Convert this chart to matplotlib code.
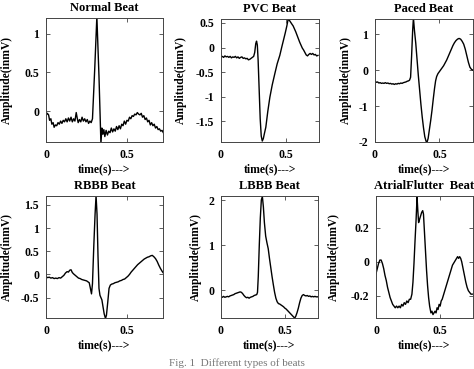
import matplotlib
matplotlib.use("Agg")
import matplotlib.pyplot as plt

plt.rcParams['font.family'] = ['Liberation Serif', 'DejaVu Serif']
plt.rcParams['font.weight'] = 'bold'

# ---- data (time in s, amplitude in mV) ----
normal_t = [0.000, 0.008, 0.016, 0.022, 0.030, 0.036, 0.044, 0.050, 0.058, 0.066,
            0.074, 0.082, 0.090, 0.098, 0.106, 0.114, 0.122, 0.130, 0.138, 0.146,
            0.154, 0.162, 0.170, 0.178, 0.186, 0.192, 0.198, 0.206, 0.214, 0.222,
            0.230, 0.238, 0.246, 0.254, 0.262, 0.270, 0.278, 0.286, 0.300, 0.313,
            0.326, 0.338, 0.344, 0.350, 0.356, 0.362, 0.370, 0.378, 0.386, 0.394,
            0.402, 0.410, 0.418, 0.426, 0.434, 0.442, 0.450, 0.458, 0.466, 0.474,
            0.482, 0.490, 0.498, 0.506, 0.514, 0.522, 0.530, 0.538, 0.546, 0.554,
            0.562, 0.570, 0.578, 0.586, 0.594, 0.602, 0.610, 0.618, 0.626, 0.634,
            0.642, 0.650, 0.658, 0.666, 0.674, 0.682, 0.690, 0.698, 0.706, 0.714,
            0.722]
normal_mv = [-0.06, -0.03, -0.05, -0.12, -0.10, -0.17, -0.15, -0.21, -0.18, -0.19,
             -0.15, -0.17, -0.13, -0.16, -0.12, -0.14, -0.10, -0.14, -0.09, -0.13,
             -0.08, -0.14, -0.10, -0.13, -0.02, -0.09, -0.15, -0.11, -0.14, -0.08,
             -0.13, -0.10, -0.14, -0.11, -0.16, -0.13, -0.15, -0.10, 0.55, 1.22,
             0.45, -0.42, -0.22, -0.30, -0.24, -0.33, -0.25, -0.31, -0.26, -0.28,
             -0.22, -0.27, -0.23, -0.26, -0.20, -0.24, -0.19, -0.23, -0.17, -0.19,
             -0.13, -0.17, -0.12, -0.13, -0.08, -0.10, -0.06, -0.07, -0.04, -0.05,
             -0.02, -0.04, -0.05, -0.03, -0.08, -0.06, -0.11, -0.09, -0.14, -0.12,
             -0.18, -0.15, -0.19, -0.17, -0.22, -0.20, -0.24, -0.23, -0.26, -0.25,
             -0.28]

pvc_t = [0.000, 0.010, 0.020, 0.030, 0.040, 0.050, 0.060, 0.070, 0.080, 0.090,
         0.100, 0.110, 0.120, 0.130, 0.140, 0.150, 0.160, 0.170, 0.180, 0.190,
         0.200, 0.210, 0.220, 0.230, 0.240, 0.250, 0.258, 0.266, 0.272, 0.278,
         0.284, 0.292, 0.300, 0.308, 0.316, 0.324, 0.332, 0.343, 0.358, 0.374,
         0.392, 0.412, 0.430, 0.450, 0.466, 0.480, 0.492, 0.504, 0.514, 0.524,
         0.534, 0.544, 0.552, 0.562, 0.572, 0.582, 0.592, 0.602, 0.612, 0.622,
         0.632, 0.642, 0.652, 0.662, 0.672, 0.682, 0.692, 0.702, 0.712, 0.722,
         0.732, 0.742]
pvc_mv = [-0.19, -0.18, -0.20, -0.17, -0.19, -0.18, -0.20, -0.18, -0.21, -0.19,
          -0.20, -0.18, -0.21, -0.19, -0.22, -0.20, -0.19, -0.22, -0.21, -0.23,
          -0.22, -0.25, -0.24, -0.22, -0.20, -0.18, -0.10, 0.08, 0.13, 0.05,
          -0.25, -0.85, -1.45, -1.80, -1.90, -1.85, -1.75, -1.62, -1.30, -1.01,
          -0.76, -0.53, -0.33, -0.16, 0.02, 0.17, 0.30, 0.44, 0.58, 0.55,
          0.51, 0.47, 0.44, 0.38, 0.32, 0.25, 0.18, 0.11, 0.05, -0.01,
          -0.05, -0.10, -0.15, -0.17, -0.14, -0.12, -0.14, -0.12, -0.15, -0.14,
          -0.17, -0.16]

paced_t = [0.000, 0.010, 0.020, 0.030, 0.040, 0.050, 0.060, 0.070, 0.080, 0.090,
           0.100, 0.110, 0.120, 0.130, 0.140, 0.150, 0.160, 0.170, 0.180, 0.190,
           0.200, 0.210, 0.220, 0.230, 0.240, 0.250, 0.260, 0.268, 0.276, 0.284,
           0.292, 0.298, 0.306, 0.316, 0.326, 0.336, 0.346, 0.356, 0.366, 0.376,
           0.386, 0.396, 0.404, 0.412, 0.422, 0.432, 0.442, 0.452, 0.462, 0.470,
           0.478, 0.488, 0.498, 0.508, 0.520, 0.532, 0.544, 0.556, 0.568, 0.580,
           0.592, 0.604, 0.616, 0.628, 0.640, 0.652, 0.664, 0.676, 0.688, 0.700,
           0.712, 0.724, 0.736, 0.748, 0.758]
paced_mv = [-0.31, -0.34, -0.33, -0.36, -0.35, -0.37, -0.36, -0.37, -0.35, -0.37,
            -0.36, -0.38, -0.37, -0.39, -0.38, -0.40, -0.38, -0.39, -0.37, -0.38,
            -0.36, -0.37, -0.35, -0.34, -0.33, -0.31, -0.30, -0.28, -0.20, 0.40,
            1.10, 1.45, 1.10, 0.75, 0.30, -0.15, -0.55, -0.95, -1.30, -1.60,
            -1.85, -1.98, -2.00, -1.90, -1.65, -1.40, -1.12, -0.80, -0.50, -0.30,
            -0.18, -0.10, -0.05, 0.00, 0.06, 0.12, 0.20, 0.28, 0.38, 0.48,
            0.58, 0.68, 0.76, 0.82, 0.86, 0.88, 0.86, 0.80, 0.72, 0.58,
            0.40, 0.22, 0.08, 0.02, 0.00]

rbbb_t = [0.000, 0.010, 0.020, 0.030, 0.040, 0.050, 0.060, 0.070, 0.080, 0.090,
          0.100, 0.110, 0.120, 0.130, 0.138, 0.146, 0.154, 0.162, 0.170, 0.180,
          0.190, 0.200, 0.210, 0.220, 0.230, 0.240, 0.250, 0.258, 0.266, 0.272,
          0.280, 0.286, 0.294, 0.302, 0.308, 0.314, 0.320, 0.326, 0.332, 0.338,
          0.344, 0.350, 0.358, 0.366, 0.372, 0.380, 0.388, 0.396, 0.404, 0.414,
          0.424, 0.434, 0.444, 0.454, 0.464, 0.474, 0.484, 0.494, 0.504, 0.514,
          0.524, 0.534, 0.544, 0.554, 0.564, 0.574, 0.584, 0.594, 0.604, 0.614,
          0.624, 0.634, 0.644, 0.654, 0.664, 0.674, 0.684, 0.694, 0.704, 0.714,
          0.720]
rbbb_mv = [-0.05, -0.07, -0.06, -0.08, -0.07, -0.09, -0.08, -0.09, -0.07, -0.08,
           -0.05, -0.02, 0.03, 0.06, 0.05, 0.09, 0.10, 0.04, 0.01, -0.02,
           -0.05, -0.08, -0.09, -0.11, -0.12, -0.13, -0.14, -0.16, -0.18, -0.28,
           -0.42, -0.20, 0.60, 1.30, 1.70, 1.30, 0.40, -0.30, -0.45, -0.50,
           -0.55, -0.68, -0.85, -0.95, -0.88, -0.60, -0.30, -0.23, -0.21, -0.20,
           -0.18, -0.17, -0.16, -0.14, -0.13, -0.11, -0.10, -0.07, -0.04, 0.00,
           0.05, 0.09, 0.13, 0.17, 0.21, 0.24, 0.27, 0.30, 0.33, 0.35,
           0.37, 0.38, 0.40, 0.41, 0.38, 0.34, 0.28, 0.20, 0.13, 0.07,
           0.04]

lbbb_t = [0.000, 0.010, 0.020, 0.030, 0.040, 0.050, 0.060, 0.070, 0.080, 0.090,
          0.100, 0.110, 0.120, 0.130, 0.140, 0.150, 0.160, 0.170, 0.180, 0.190,
          0.200, 0.210, 0.220, 0.230, 0.240, 0.250, 0.260, 0.270, 0.280, 0.286,
          0.292, 0.300, 0.308, 0.316, 0.324, 0.332, 0.340, 0.350, 0.360, 0.370,
          0.380, 0.390, 0.400, 0.410, 0.420, 0.430, 0.440, 0.450, 0.460, 0.470,
          0.480, 0.490, 0.500, 0.510, 0.520, 0.530, 0.540, 0.550, 0.560, 0.570,
          0.578, 0.586, 0.596, 0.606, 0.616, 0.626, 0.636, 0.646, 0.656, 0.666,
          0.676, 0.686, 0.696, 0.706, 0.716, 0.726, 0.736, 0.746, 0.756]
lbbb_mv = [-0.15, -0.16, -0.14, -0.16, -0.15, -0.14, -0.15, -0.13, -0.12, -0.11,
           -0.10, -0.08, -0.07, -0.06, -0.05, -0.04, -0.05, -0.08, -0.12, -0.15,
           -0.17, -0.16, -0.18, -0.16, -0.15, -0.14, -0.12, -0.11, -0.10, -0.05,
           0.30, 1.00, 1.60, 2.00, 2.08, 1.85, 1.50, 1.20, 1.05, 0.92,
           0.70, 0.50, 0.30, 0.12, -0.05, -0.18, -0.26, -0.30, -0.31, -0.33,
           -0.35, -0.37, -0.40, -0.42, -0.45, -0.48, -0.51, -0.54, -0.57, -0.60,
           -0.62, -0.58, -0.50, -0.40, -0.28, -0.18, -0.12, -0.10, -0.12, -0.13,
           -0.12, -0.14, -0.13, -0.15, -0.14, -0.15, -0.14, -0.15, -0.15]

afl_t = [0.000, 0.010, 0.020, 0.030, 0.040, 0.050, 0.060, 0.070, 0.080, 0.090,
         0.100, 0.110, 0.120, 0.130, 0.140, 0.150, 0.160, 0.170, 0.180, 0.190,
         0.200, 0.210, 0.220, 0.230, 0.240, 0.250, 0.260, 0.270, 0.280, 0.288,
         0.296, 0.304, 0.312, 0.320, 0.326, 0.332, 0.340, 0.348, 0.356, 0.364,
         0.370, 0.378, 0.386, 0.394, 0.402, 0.410, 0.418, 0.428, 0.436, 0.444,
         0.452, 0.460, 0.468, 0.476, 0.484, 0.492, 0.500, 0.508, 0.516, 0.524,
         0.532, 0.540, 0.548, 0.556, 0.564, 0.572, 0.580, 0.588, 0.596, 0.604,
         0.612, 0.620, 0.628, 0.636, 0.644, 0.652, 0.660, 0.668, 0.676, 0.684,
         0.692, 0.700, 0.710, 0.720, 0.730, 0.740, 0.750]
afl_mv = [-0.07, -0.04, -0.01, 0.01, 0.01, -0.01, -0.04, -0.08, -0.11, -0.15,
          -0.18, -0.21, -0.23, -0.25, -0.26, -0.27, -0.26, -0.27, -0.26, -0.27,
          -0.25, -0.26, -0.24, -0.25, -0.23, -0.24, -0.22, -0.22, -0.19, -0.12,
          -0.01, 0.12, 0.24, 0.38, 0.30, 0.23, 0.25, 0.27, 0.29, 0.30,
          0.28, 0.17, 0.06, -0.05, -0.14, -0.21, -0.26, -0.30, -0.29, -0.31,
          -0.30, -0.29, -0.30, -0.27, -0.28, -0.25, -0.26, -0.23, -0.22, -0.20,
          -0.18, -0.16, -0.14, -0.12, -0.10, -0.08, -0.06, -0.04, -0.02, -0.01,
          0.00, 0.01, 0.02, 0.03, 0.02, 0.03, 0.02, 0.00, -0.03, -0.06,
          -0.09, -0.12, -0.15, -0.17, -0.18, -0.19, -0.19]

titles = ["Normal Beat", "PVC Beat", "Paced Beat",
          "RBBB Beat", "LBBB Beat", "AtrialFlutter  Beat"]
series = [(normal_t, normal_mv), (pvc_t, pvc_mv), (paced_t, paced_mv),
          (rbbb_t, rbbb_mv), (lbbb_t, lbbb_mv), (afl_t, afl_mv)]
xmax = [0.72, 0.75, 0.76, 0.72, 0.76, 0.756]
ylims = [(-0.4, 1.2), (-1.92, 0.58), (-2.0, 1.42),
         (-0.94, 1.69), (-0.62, 2.09), (-0.33, 0.386)]
yticks = [[0, 0.5, 1], [-1.5, -1, -0.5, 0, 0.5], [-2, -1, 0, 1],
          [-0.5, 0, 0.5, 1, 1.5], [0, 1, 2], [-0.2, 0, 0.2]]

W, H = 474, 369
# axes boxes in pixels: left, top, right, bottom
boxes = [(46, 18, 163, 142), (221, 19, 319, 142), (375, 19, 473, 142),
         (46, 196, 163, 318), (221, 196, 318, 318), (376, 196, 473, 318)]
# distance from the axes to the right edge of the rotated y label, pixels
ylabel_px = [33, 34, 23, 33, 19, 36]

fig = plt.figure(figsize=(W / 100, H / 100), dpi=100)

for i, (title, (t, mv)) in enumerate(zip(titles, series)):
    l, tp, r, b = boxes[i]
    ax = fig.add_axes([l / W, 1 - b / H, (r - l) / W, (b - tp) / H])
    ax.plot(t, mv, color='black', lw=1.0)
    ax.set_xlim(0, xmax[i])
    ax.set_ylim(*ylims[i])
    ax.set_xticks([0, 0.5])
    ax.set_xticklabels(['0', '0.5'])
    ax.set_yticks(yticks[i])
    ax.set_yticklabels([f"{v:g}" for v in yticks[i]])
    ax.tick_params(direction='in', length=3, width=0.6, top=True, right=True,
                   labelsize=8.5, pad=5, color='#444444')
    for s in ax.spines.values():
        s.set_linewidth(0.7)
        s.set_color('#444444')
    ax.set_title(title, fontsize=9, fontweight='bold', pad=5)
    ax.set_xlabel("time(s)--->", fontsize=8.5, fontweight='bold', labelpad=2)
    ax.set_ylabel("Amplitude(inmV)", fontsize=8.3, fontweight='bold')
    ax.yaxis.set_label_coords(-ylabel_px[i] / (r - l), 0.5)

fig.text(0.5, 1 / H, "Fig. 1  Different types of beats", ha='center',
         va='bottom', fontsize=8, color='#777777', fontweight='normal')

fig.savefig("out.png", dpi=100)
